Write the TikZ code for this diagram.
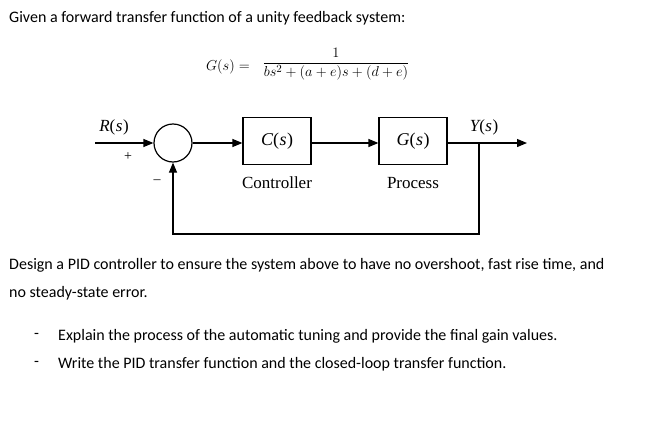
\documentclass[tikz,border=0pt]{standalone}
\usepackage{fontspec}
\setmainfont{Carlito}
\newfontfamily\tms{Liberation Serif}
\usetikzlibrary{arrows.meta}
\newcommand{\fn}[1]{{\itshape #1}(\kern0.5pt{\itshape s}\kern0.5pt)}
\begin{document}
\begin{tikzpicture}[x=1pt,y=-1pt,
  blk/.style={draw,line width=1.2pt,minimum width=68pt,minimum height=47pt,font=\tms\fontsize{18}{20}\selectfont},
  ln/.style={line width=1.2pt},
  ar/.style={ln,-{Triangle[length=10pt,width=8pt]}},
  lab/.style={font=\tms\fontsize{17}{19}\selectfont},
  txt/.style={anchor=west,font=\fontsize{16}{18}\selectfont,inner sep=0}]
\useasboundingbox (0,0) rectangle (659,439);
\node[txt] (t1) at (9,18) {Given a forward transfer function of a unity feedback system:};
\node[anchor=east,inner sep=0,font=\fontsize{15.5}{17}\selectfont] (geq) at (250,67) {$G(s) =$};
\node[inner sep=1pt,font=\fontsize{15.5}{17}\selectfont] (frac) at (336,64) {$\displaystyle\frac{1}{bs^2+(a+e)s+(d+e)}$};
\node[draw,circle,line width=1.2pt,minimum size=38pt,inner sep=0] (sum) at (173,143) {};
\node[blk] (C) at (277,141) {\fn{C}};
\node[blk] (G) at (413,141) {\fn{G}};
\coordinate (in) at (95,143);
\coordinate (out) at (527,143);
\coordinate (br) at (479,143);
\coordinate (b1) at (479,234);
\coordinate (b2) at (173,234);
\draw[ar] (in) -- (sum);
\draw[ar] (sum) -- (C.west|-sum);
\draw[ar] (C.east|-sum) -- (G.west|-sum);
\draw[ar] (G.east|-sum) -- (out);
\draw[ar] (br) -- (b1) -- (b2) -- (sum.south);
\node[lab] (R) at (114,127) {\fn{R}};
\node[lab] (Y) at (484,127) {\fn{Y}};
\node[lab,font=\tms\fontsize{14}{16}\selectfont] (p) at (128,157) {+};
\node[lab,font=\tms\fontsize{14}{16}\selectfont] (m) at (157,182) {\textendash};
\node[lab] (cl) at (277,183) {Controller};
\node[lab] (pl) at (413,183) {Process};
\node[txt] (t2) at (9,265) {Design a PID controller to ensure the system above to have no overshoot, fast rise time, and};
\node[txt] (t3) at (9,293) {no steady-state error.};
\node[txt] (d1) at (34,336) {-};
\node[txt] (t4) at (58,336) {Explain the process of the automatic tuning and provide the final gain values.};
\node[txt] (d2) at (34,364) {-};
\node[txt] (t5) at (58,364) {Write the PID transfer function and the closed-loop transfer function.};
\end{tikzpicture}
\end{document}
